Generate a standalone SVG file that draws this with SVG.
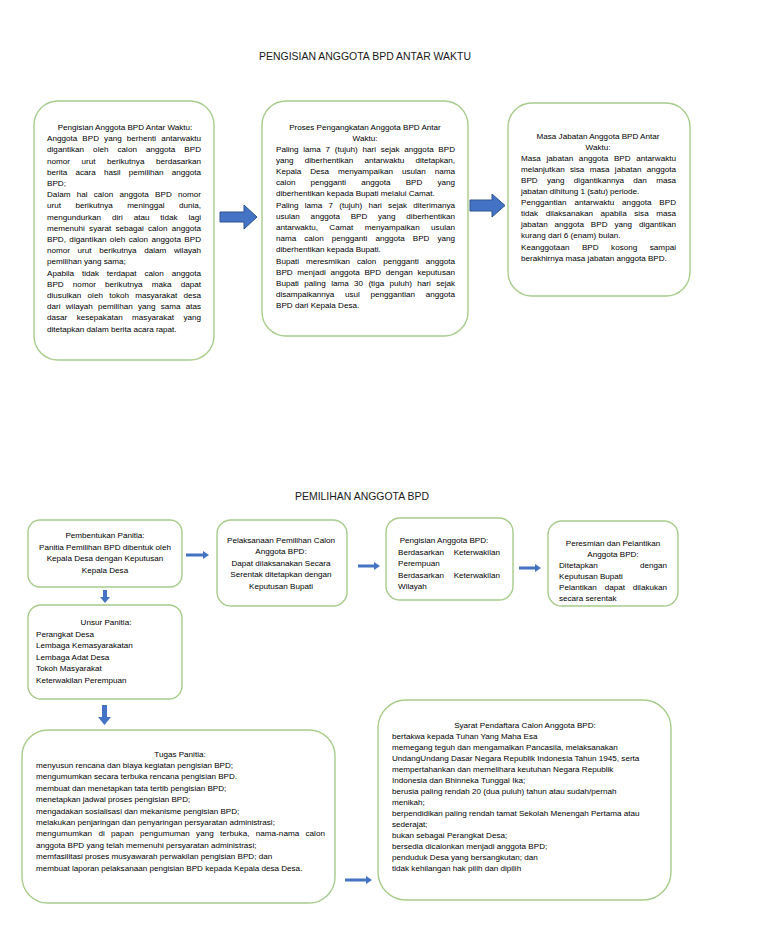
<svg xmlns="http://www.w3.org/2000/svg" width="768" height="932" viewBox="0 0 768 932">
<style>
.box{fill:#fff;stroke:#a8cc8c;stroke-width:1.4}
text{font-family:"Liberation Sans",Arial,sans-serif;font-size:8.1px;fill:#000}
.c{text-anchor:middle}
.h{font-size:10.5px;fill:#1a1a1a}
.arr{fill:#4472c4;stroke:#2f528f;stroke-width:1}
.sarr{fill:#4472c4}
</style>
<rect width="768" height="932" fill="#fff"/>
<text class="h c" x="365" y="60" textLength="212" lengthAdjust="spacingAndGlyphs">PENGISIAN ANGGOTA BPD ANTAR WAKTU</text>
<text class="h c" x="362" y="500" textLength="134" lengthAdjust="spacingAndGlyphs">PEMILIHAN ANGGOTA BPD</text>

<g id="connectors">
<polygon class="arr" points="220,212 244,212 244,205 257,217 244,229 244,222 220,222"/>
<polygon class="arr" points="470,200 492,200 492,194 505,205.5 492,217 492,211 470,211"/>
<polygon class="sarr" points="186,553.5 203,553.5 203,551 209,555 203,559 203,556.5 186,556.5"/>
<polygon class="sarr" points="358,564.5 374,564.5 374,562 380,566 374,570 374,567.5 358,567.5"/>
<polygon class="sarr" points="519,566.5 535,566.5 535,564 541,568 535,572 535,569.5 519,569.5"/>
<polygon class="sarr" points="103,590 107,590 107,597 110,597 105,603 100,597 103,597"/>
<polygon class="sarr" points="102,705 107,705 107,717 111,717 104.5,725 98,717 102,717"/>
<polygon class="sarr" points="345,878.5 366,878.5 366,876 372,880 366,884 366,881.5 345,881.5"/>
</g>

<g id="n1">
<rect class="box" x="34" y="101" width="180" height="259" rx="24"/>
<text class="c" x="125" y="130">Pengisian Anggota BPD Antar Waktu:</text>
<text x="47" y="141.2" word-spacing="2.8" textLength="154" lengthAdjust="spacing">Anggota BPD yang berhenti antarwaktu</text>
<text x="47" y="152.4" word-spacing="6.7" textLength="154" lengthAdjust="spacing">digantikan oleh calon anggota BPD</text>
<text x="47" y="163.6" word-spacing="9.3" textLength="154" lengthAdjust="spacing">nomor urut berikutnya berdasarkan</text>
<text x="47" y="174.8" word-spacing="6" textLength="154" lengthAdjust="spacing">berita acara hasil pemilihan anggota</text>
<text x="47" y="186">BPD;</text>
<text x="47" y="197.2" word-spacing="4" textLength="154" lengthAdjust="spacing">Dalam hal calon anggota BPD nomor</text>
<text x="47" y="208.4" word-spacing="12.2" textLength="154" lengthAdjust="spacing">urut berikutnya meninggal dunia,</text>
<text x="47" y="219.6" word-spacing="8.7" textLength="154" lengthAdjust="spacing">mengundurkan diri atau tidak lagi</text>
<text x="47" y="230.8" word-spacing="2" textLength="154" lengthAdjust="spacing">memenuhi syarat sebagai calon anggota</text>
<text x="47" y="242" word-spacing="1.1" textLength="154" lengthAdjust="spacing">BPD, digantikan oleh calon anggota BPD</text>
<text x="47" y="253.2" word-spacing="5.4" textLength="154" lengthAdjust="spacing">nomor urut berikutnya dalam wilayah</text>
<text x="47" y="264.4">pemilihan yang sama;</text>
<text x="47" y="275.6" word-spacing="5.6" textLength="154" lengthAdjust="spacing">Apabila tidak terdapat calon anggota</text>
<text x="47" y="286.8" word-spacing="6.9" textLength="154" lengthAdjust="spacing">BPD nomor berikutnya maka dapat</text>
<text x="47" y="298" word-spacing="4" textLength="154" lengthAdjust="spacing">diusulkan oleh tokoh masyarakat desa</text>
<text x="47" y="309.2" word-spacing="3" textLength="154" lengthAdjust="spacing">dari wilayah pemilihan yang sama atas</text>
<text x="47" y="320.4" word-spacing="7.2" textLength="154" lengthAdjust="spacing">dasar kesepakatan masyarakat yang</text>
<text x="47" y="331.6">ditetapkan dalam berita acara rapat.</text>
</g>

<g id="n2">
<rect class="box" x="262" y="101" width="206" height="235" rx="24"/>
<text class="c" x="365" y="130">Proses Pengangkatan Anggota BPD Antar</text>
<text class="c" x="365" y="141">Waktu:</text>
<text x="276" y="152" word-spacing="2.4" textLength="179" lengthAdjust="spacing">Paling lama 7 (tujuh) hari sejak anggota BPD</text>
<text x="276" y="163" word-spacing="9" textLength="179" lengthAdjust="spacing">yang diberhentikan antarwaktu ditetapkan,</text>
<text x="276" y="174" word-spacing="6.7" textLength="179" lengthAdjust="spacing">Kepala Desa menyampaikan usulan nama</text>
<text x="276" y="185" word-spacing="12.8" textLength="179" lengthAdjust="spacing">calon pengganti anggota BPD yang</text>
<text x="276" y="196">diberhentikan kepada Bupati melalui Camat.</text>
<text x="276" y="208" word-spacing="4" textLength="179" lengthAdjust="spacing">Paling lama 7 (tujuh) hari sejak diterimanya</text>
<text x="276" y="219" word-spacing="8.5" textLength="179" lengthAdjust="spacing">usulan anggota BPD yang diberhentikan</text>
<text x="276" y="230" word-spacing="9.2" textLength="179" lengthAdjust="spacing">antarwaktu, Camat menyampaikan usulan</text>
<text x="276" y="241" word-spacing="5.7" textLength="179" lengthAdjust="spacing">nama calon pengganti anggota BPD yang</text>
<text x="276" y="252">diberhentikan kepada Bupati.</text>
<text x="276" y="264" word-spacing="4.7" textLength="179" lengthAdjust="spacing">Bupati meresmikan calon pengganti anggota</text>
<text x="276" y="275" word-spacing="2.3" textLength="179" lengthAdjust="spacing">BPD menjadi anggota BPD dengan keputusan</text>
<text x="276" y="286" word-spacing="3.1" textLength="179" lengthAdjust="spacing">Bupati paling lama 30 (tiga puluh) hari sejak</text>
<text x="276" y="297" word-spacing="8.5" textLength="179" lengthAdjust="spacing">disampaikannya usul penggantian anggota</text>
<text x="276" y="308">BPD dari Kepala Desa.</text>
</g>

<g id="n3">
<rect class="box" x="508" y="103" width="182" height="193" rx="24"/>
<text class="c" x="598" y="139">Masa Jabatan Anggota BPD Antar</text>
<text class="c" x="598" y="150">Waktu:</text>
<text x="521" y="161" word-spacing="3.4" textLength="155" lengthAdjust="spacing">Masa jabatan anggota BPD antarwaktu</text>
<text x="521" y="172" word-spacing="3.1" textLength="155" lengthAdjust="spacing">melanjutkan sisa masa jabatan anggota</text>
<text x="521" y="183" word-spacing="7" textLength="155" lengthAdjust="spacing">BPD yang digantikannya dan masa</text>
<text x="521" y="194">jabatan dihitung 1 (satu) periode.</text>
<text x="521" y="205" word-spacing="5.6" textLength="155" lengthAdjust="spacing">Penggantian antarwaktu anggota BPD</text>
<text x="521" y="216" word-spacing="5.3" textLength="155" lengthAdjust="spacing">tidak dilaksanakan apabila sisa masa</text>
<text x="521" y="227" word-spacing="4.6" textLength="155" lengthAdjust="spacing">jabatan anggota BPD yang digantikan</text>
<text x="521" y="238">kurang dari 6 (enam) bulan.</text>
<text x="521" y="250" word-spacing="10.2" textLength="155" lengthAdjust="spacing">Keanggotaan BPD kosong sampai</text>
<text x="521" y="261">berakhirnya masa jabatan anggota BPD.</text>
</g>

<g id="n4">
<rect class="box" x="28" y="520" width="154" height="67" rx="12"/>
<text class="c" x="105" y="538">Pembentukan Panitia:</text>
<text class="c" x="105" y="549.5">Panitia Pemilihan BPD dibentuk oleh</text>
<text class="c" x="105" y="561">Kepala Desa dengan Keputusan</text>
<text class="c" x="105" y="572.5">Kepala Desa</text>
</g>

<g id="n5">
<rect class="box" x="217" y="520" width="130" height="86" rx="14"/>
<text class="c" x="281" y="543">Pelaksanaan Pemilihan Calon</text>
<text class="c" x="281" y="554">Anggota BPD:</text>
<text class="c" x="281" y="565.5">Dapat dilaksanakan Secara</text>
<text class="c" x="281" y="577">Serentak ditetapkan dengan</text>
<text class="c" x="281" y="588.5">Keputusan Bupati</text>
</g>

<g id="n6">
<rect class="box" x="386" y="518" width="127" height="82" rx="14"/>
<text class="c" x="444" y="543">Pengisian Anggota BPD:</text>
<text x="398" y="554.5" word-spacing="7.5" textLength="102" lengthAdjust="spacing">Berdasarkan Keterwakilan</text>
<text x="398" y="566">Perempuan</text>
<text x="398" y="577.5" word-spacing="7.5" textLength="102" lengthAdjust="spacing">Berdasarkan Keterwakilan</text>
<text x="398" y="589">Wilayah</text>
</g>

<g id="n7">
<rect class="box" x="548" y="521" width="130" height="85" rx="14"/>
<text class="c" x="613" y="546">Peresmian dan Pelantikan</text>
<text class="c" x="613" y="556.5">Anggota BPD:</text>
<text x="559" y="568" word-spacing="40" textLength="108" lengthAdjust="spacing">Ditetapkan dengan</text>
<text x="559" y="579">Keputusan Bupati</text>
<text x="559" y="590" word-spacing="5.6" textLength="108" lengthAdjust="spacing">Pelantikan dapat dilakukan</text>
<text x="559" y="601">secara serentak</text>
</g>

<g id="n8">
<rect class="box" x="28" y="605" width="154" height="94" rx="13"/>
<text class="c" x="106" y="625">Unsur Panitia:</text>
<text x="36" y="636.5">Perangkat Desa</text>
<text x="36" y="648">Lembaga Kemasyarakatan</text>
<text x="36" y="659.5">Lembaga Adat Desa</text>
<text x="36" y="671">Tokoh Masyarakat</text>
<text x="36" y="682.5">Keterwakilan Perempuan</text>
</g>

<g id="n9">
<rect class="box" x="22" y="730" width="313" height="173" rx="26"/>
<text class="c" x="180" y="757">Tugas Panitia:</text>
<text x="36" y="768">menyusun rencana dan biaya kegiatan pengisian BPD;</text>
<text x="36" y="779.4">mengumumkan secara terbuka rencana pengisian BPD.</text>
<text x="36" y="790.8">membuat dan menetapkan tata tertib pengisian BPD;</text>
<text x="36" y="802.2">menetapkan jadwal proses pengisian BPD;</text>
<text x="36" y="813.6">mengadakan sosialisasi dan mekanisme pengisian BPD;</text>
<text x="36" y="825">melakukan penjaringan dan penyaringan persyaratan administrasi;</text>
<text x="36" y="836.4" word-spacing="4" textLength="289" lengthAdjust="spacing">mengumumkan di papan pengumuman yang terbuka, nama-nama calon</text>
<text x="36" y="847.8">anggota BPD yang telah memenuhi persyaratan administrasi;</text>
<text x="36" y="859.2">memfasilitasi proses musyawarah perwakilan pengisian BPD; dan</text>
<text x="36" y="870.6">membuat laporan pelaksanaan pengisian BPD kepada Kepala desa Desa.</text>
</g>

<g id="n10">
<rect class="box" x="378" y="700" width="293" height="200" rx="28"/>
<text class="c" x="525" y="728">Syarat Pendaftara Calon Anggota BPD:</text>
<text x="392" y="739">bertakwa kepada Tuhan Yang Maha Esa</text>
<text x="392" y="750">memegang teguh dan mengamalkan Pancasila, melaksanakan</text>
<text x="392" y="761">UndangUndang Dasar Negara Republik Indonesia Tahun 1945, serta</text>
<text x="392" y="772">mempertahankan dan memelihara keutuhan Negara Republik</text>
<text x="392" y="783">Indonesia dan Bhinneka Tunggal Ika;</text>
<text x="392" y="794">berusia paling rendah 20 (dua puluh) tahun atau sudah/pernah</text>
<text x="392" y="805">menikah;</text>
<text x="392" y="816">berpendidikan paling rendah tamat Sekolah Menengah Pertama atau</text>
<text x="392" y="827">sederajat;</text>
<text x="392" y="838">bukan sebagai Perangkat Desa;</text>
<text x="392" y="849">bersedia dicalonkan menjadi anggota BPD;</text>
<text x="392" y="860">penduduk Desa yang bersangkutan; dan</text>
<text x="392" y="871">tidak kehilangan hak pilih dan dipilih</text>
</g>
</svg>
